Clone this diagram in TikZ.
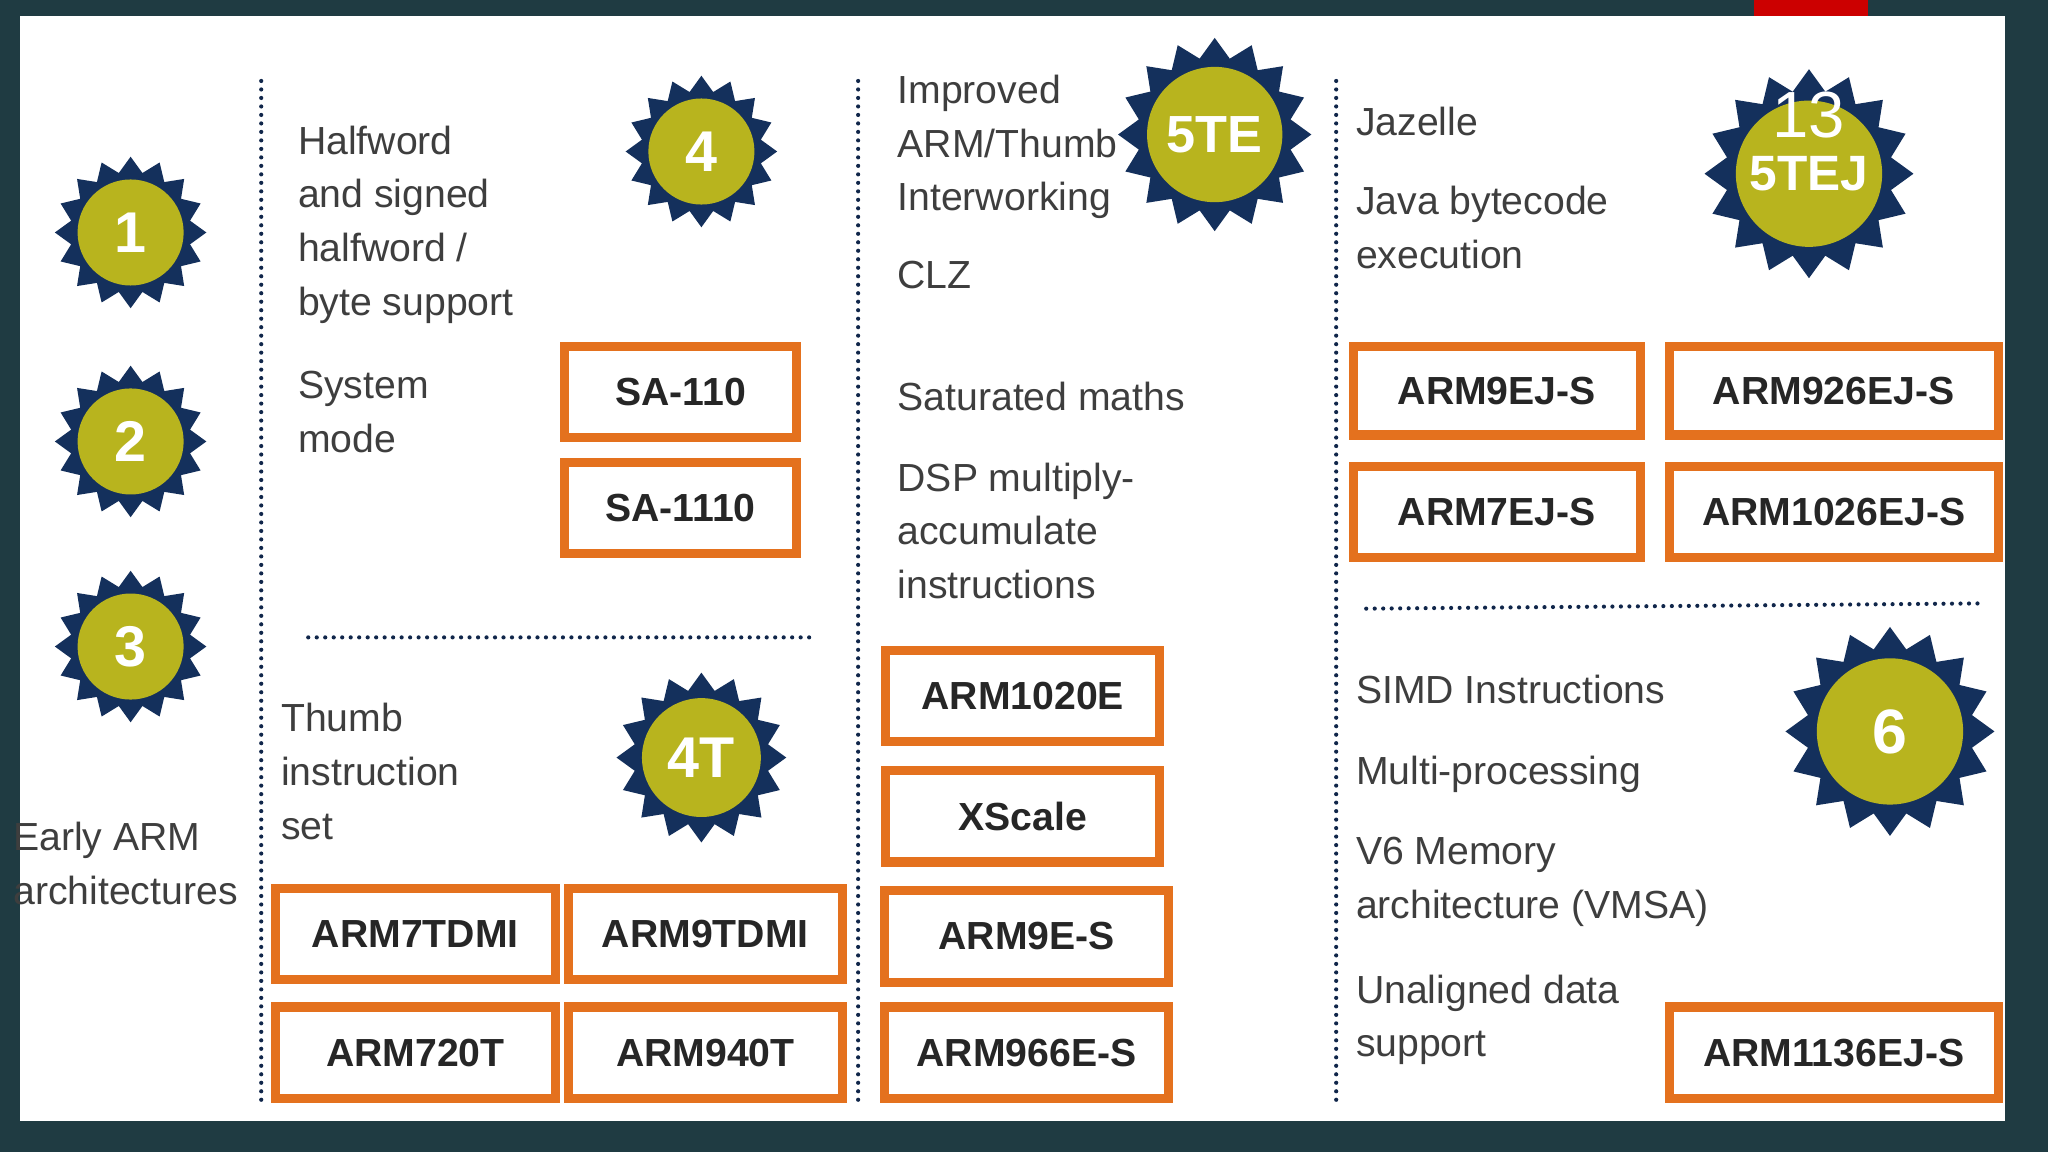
\documentclass[tikz,border=0pt]{standalone}
\usepackage{fontspec}
\setmainfont{Liberation Sans}
\usetikzlibrary{shapes.geometric}
\definecolor{frame}{HTML}{1F3B42}
\definecolor{navy}{HTML}{14305C}
\definecolor{olive}{HTML}{B8B41E}
\definecolor{orng}{HTML}{E4711E}
\definecolor{txt}{HTML}{3E3E3E}
\tikzset{
  chip/.style={draw=orng,line width=7pt,fill=white,font=\fontsize{30}{36}\selectfont\bfseries,text=black!85,inner sep=0pt},
  lbl/.style={anchor=north west,align=left,inner sep=0pt,text=txt,font=\fontsize{30}{41.3}\selectfont},
  dots/.style={line width=3.2pt,dash pattern=on 0pt off 6.5pt,line cap=round,draw=navy!80!black},
}
\newcommand{\burst}[5]{% name, center, radius, text, fontsize
  \node[star,star points=16,star point ratio=1.25,minimum size=2*#3 pt,fill=navy,inner sep=0pt] (#1) at (#2) {};
  \fill[olive] (#2) circle[radius=0.7*#3 pt];
  \node[text=white,font=\fontsize{#5}{#5}\selectfont\bfseries] at (#2) {#4};
}
\begin{document}
\begin{tikzpicture}[x=1pt,y=-1pt]
\useasboundingbox (0,0) rectangle (1568,882);
\fill[frame] (0,0) rectangle (1568,882);
\fill[red!80!black] (1343,0) rectangle (1430,12);
\fill[white] (15,12) rectangle (1535,858);
% dotted separators
\coordinate (v1a) at (200,62); \coordinate (v1b) at (200,845);
\coordinate (v2a) at (657,62); \coordinate (v2b) at (657,845);
\coordinate (v3a) at (1023,62); \coordinate (v3b) at (1023,845);
\coordinate (h1a) at (236,488); \coordinate (h1b) at (620,488);
\coordinate (h2a) at (1046,466); \coordinate (h2b) at (1515,462);
\draw[dots] (v1a)--(v1b); \draw[dots] (v2a)--(v2b); \draw[dots] (v3a)--(v3b);
\draw[dots] (h1a)--(h1b); \draw[dots] (h2a)--(h2b);
% stars
\burst{s1}{100,178}{58}{1}{44}
\burst{s2}{100,338}{58}{2}{44}
\burst{s3}{100,495}{58}{3}{44}
\burst{s4}{537,116}{58}{4}{44}
\burst{s4t}{537,580}{65}{4T}{44}
\burst{s5te}{930,103}{74}{5TE}{40}
\burst{s5tej}{1385,133}{80}{5TEJ}{38}
\burst{s6}{1447,560}{80}{6}{48}
\node[text=white,font=\fontsize{50}{50}\selectfont] (num) at (1385,88) {13};
% texts
\node[lbl] (t1) at (228,96) {Halfword\\and signed\\halfword /\\byte support};
\node[lbl] (t2) at (228,284) {System\\mode};
\node[lbl] (t3) at (215,538) {Thumb\\instruction\\set};
\node[lbl] (t4) at (10,629) {Early ARM\\architectures};
\node[lbl] (t5) at (687,57) {Improved\\ARM/Thumb\\Interworking};
\node[lbl] (t6) at (687,200) {CLZ};
\node[lbl] (t7) at (687,292) {Saturated maths};
\node[lbl] (t8) at (687,354) {DSP multiply-\\accumulate\\instructions};
\node[lbl] (t9) at (1038,82) {Jazelle};
\node[lbl] (t10) at (1038,142) {Java bytecode\\execution};
\node[lbl] (t11) at (1038,517) {SIMD Instructions};
\node[lbl] (t12) at (1038,579) {Multi-processing};
\node[lbl] (t13) at (1038,641) {V6 Memory\\architecture (VMSA)};
\node[lbl] (t14) at (1038,746) {Unaligned data\\support};
% chips
\node[chip,minimum width=178,minimum height=70] (c1) at (521,300) {SA-110};
\node[chip,minimum width=178,minimum height=70] (c2) at (521,389) {SA-1110};
\node[chip,minimum width=214,minimum height=70] (c3) at (318,715) {ARM7TDMI};
\node[chip,minimum width=210,minimum height=70] (c4) at (540,715) {ARM9TDMI};
\node[chip,minimum width=214,minimum height=70] (c5) at (318,806) {ARM720T};
\node[chip,minimum width=210,minimum height=70] (c6) at (540,806) {ARM940T};
\node[chip,minimum width=210,minimum height=70] (c7) at (783,533) {ARM1020E};
\node[chip,minimum width=210,minimum height=70] (c8) at (783,625) {XScale};
\node[chip,minimum width=217,minimum height=70] (c9) at (786,717) {ARM9E-S};
\node[chip,minimum width=217,minimum height=70] (c10) at (786,806) {ARM966E-S};
\node[chip,minimum width=220,minimum height=68] (c11) at (1146,299) {ARM9EJ-S};
\node[chip,minimum width=252,minimum height=68] (c12) at (1404,299) {ARM926EJ-S};
\node[chip,minimum width=220,minimum height=70] (c13) at (1146,392) {ARM7EJ-S};
\node[chip,minimum width=252,minimum height=70] (c14) at (1404,392) {ARM1026EJ-S};
\node[chip,minimum width=252,minimum height=70] (c15) at (1404,806) {ARM1136EJ-S};
\end{tikzpicture}
\end{document}
